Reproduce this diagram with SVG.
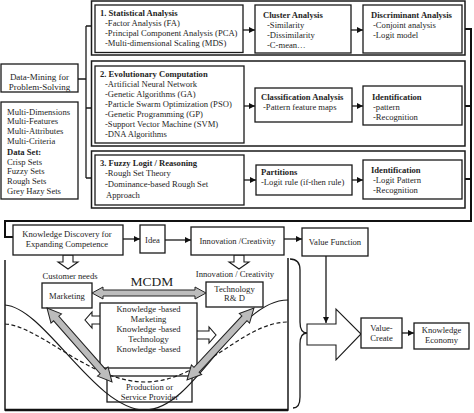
<svg xmlns="http://www.w3.org/2000/svg" width="474" height="413" viewBox="0 0 474 413">
<defs>
<style>
.t{font-family:"Liberation Serif","Times New Roman",serif;font-size:8.6px;fill:#1e1e1e}
.h{font-weight:bold}
.m{text-anchor:middle}
.bx{fill:#fff;stroke:#1a1a1a;stroke-width:1.3}
.fr{fill:none;stroke:#1a1a1a;stroke-width:1.5}
.ln{fill:none;stroke:#1a1a1a;stroke-width:1.3}
.bus{fill:none;stroke:#111;stroke-width:2}
.ga{fill:#bcbcbc;stroke:#222;stroke-width:1}
.ha{fill:#fff;stroke:#1a1a1a;stroke-width:1.1}
.cv{fill:none;stroke:#1a1a1a;stroke-width:1.2}
.dv{fill:none;stroke:#1a1a1a;stroke-width:1.2;stroke-dasharray:4 2.5}
</style>
<marker id="ah" viewBox="0 0 10 10" refX="10" refY="5" markerWidth="7" markerHeight="6" orient="auto" markerUnits="userSpaceOnUse"><path d="M0,0L10,5L0,10z" fill="#111"/></marker>
</defs>
<rect width="474" height="413" fill="#fff"/>

<g id="connectors">
  <!-- left bracket -->
  <path class="ln" d="M78,79H86M86,26V178M86,26H91.5M86,108H91.5M86,178H91.5"/>
  <!-- top section arrows -->
  <path class="ln" d="M243,30H255" marker-end="url(#ah)"/>
  <path class="ln" d="M351,30H363" marker-end="url(#ah)"/>
  <path class="ln" d="M244,106H255" marker-end="url(#ah)"/>
  <path class="ln" d="M352,106H363" marker-end="url(#ah)"/>
  <path class="ln" d="M244,180H256" marker-end="url(#ah)"/>
  <path class="ln" d="M352,180H363" marker-end="url(#ah)"/>
  <!-- right bus and loop -->
  <path class="bus" d="M465,29H471M465,106H471M465,179H471M471,28V221H5V237H13"/>
  <!-- bottom flow -->
  <path class="ln" d="M123,239H140" marker-end="url(#ah)"/>
  <path class="ln" d="M165,240H191" marker-end="url(#ah)"/>
  <path class="ln" d="M284,239H302" marker-end="url(#ah)"/>
  <path class="ln" d="M326,256V323" marker-end="url(#ah)"/>
  <path class="ln" d="M402,333H414" marker-end="url(#ah)"/>
  <!-- hollow down arrows -->
  <path class="ha" d="M63,255V262H58L68,269L78,262H73V255Z"/>
  <path class="ha" d="M234,255V262H229L239,269L249,262H244V255Z"/>
  <!-- MCDM frame (U) -->
  <path class="fr" d="M5,260V410H288V258"/>
  <path d="M5,410H288" stroke="#111" stroke-width="2.5"/>
  <!-- brace -->
  <path class="ln" d="M290,259Q300,259 300,270V322Q300,333 307,333Q300,333 300,344V397Q300,408 293,408"/>
  <!-- big hollow arrow -->
  <path class="ha" d="M307,324H336V309L361,334L336,360V345H307Z"/>
  <!-- hollow side arrows of knowledge box -->
  <path class="ha" d="M100,316H92V312L85,320L92,328V324H100"/>
  <path class="ha" d="M197,331H209V327L216,335L209,343V339H197"/>
</g>

<g id="statistical-frame">
  <rect class="fr" x="91.5" y="1" width="373.5" height="54"/>
  <rect class="bx" x="95" y="5" width="148" height="47.5"/>
  <text class="t h" x="100" y="16">1. Statistical Analysis</text>
  <text class="t" x="105" y="25.5">-Factor Analysis (FA)</text>
  <text class="t" x="105" y="35.5">-Principal Component Analysis (PCA)</text>
  <text class="t" x="105" y="45.5">-Multi-dimensional Scaling (MDS)</text>
</g>
<g id="cluster">
  <rect class="bx" x="255" y="5" width="96" height="48"/>
  <text class="t h" x="263" y="18">Cluster Analysis</text>
  <text class="t" x="267" y="28">-Similarity</text>
  <text class="t" x="267" y="38">-Dissimilarity</text>
  <text class="t" x="267" y="48">-C-mean…</text>
</g>
<g id="discriminant">
  <rect class="bx" x="363" y="5" width="99" height="48"/>
  <text class="t h" x="371" y="18">Discriminant Analysis</text>
  <text class="t" x="373" y="28">-Conjoint analysis</text>
  <text class="t" x="373" y="38">-Logit model</text>
</g>

<g id="evolutionary-frame">
  <rect class="fr" x="91.5" y="61" width="373.5" height="85"/>
  <rect class="bx" x="95" y="66" width="149" height="77"/>
  <text class="t h" x="100" y="76.5">2. Evolutionary Computation</text>
  <text class="t" x="105" y="86.5">-Artificial Neural Network</text>
  <text class="t" x="105" y="96.5">-Genetic Algorithms (GA)</text>
  <text class="t" x="105" y="106.5">-Particle Swarm Optimization (PSO)</text>
  <text class="t" x="105" y="116.5">-Genetic Programming (GP)</text>
  <text class="t" x="105" y="126.5">-Support Vector Machine (SVM)</text>
  <text class="t" x="105" y="136.5">-DNA Algorithms</text>
</g>
<g id="classification">
  <rect class="bx" x="255" y="88" width="97" height="34"/>
  <text class="t h" x="261" y="100">Classification Analysis</text>
  <text class="t" x="263" y="110">-Pattern feature maps</text>
</g>
<g id="identification-2">
  <rect class="bx" x="363" y="86" width="99" height="39"/>
  <text class="t h" x="372" y="100">Identification</text>
  <text class="t" x="373" y="109.5">-pattern</text>
  <text class="t" x="373" y="119.5">-Recognition</text>
</g>

<g id="fuzzy-frame">
  <rect class="fr" x="91.5" y="151" width="373.5" height="57"/>
  <rect class="bx" x="95" y="155" width="149" height="50"/>
  <text class="t h" x="100" y="166">3. Fuzzy Logit / Reasoning</text>
  <text class="t" x="105" y="176">-Rough Set Theory</text>
  <text class="t" x="105" y="187">-Dominance-based Rough Set</text>
  <text class="t" x="106" y="198">Approach</text>
</g>
<g id="partitions">
  <rect class="bx" x="256" y="165" width="96" height="30"/>
  <text class="t h" x="261" y="175">Partitions</text>
  <text class="t" x="261" y="185">-Logit rule (if-then rule)</text>
</g>
<g id="identification-3">
  <rect class="bx" x="363" y="160" width="99" height="39"/>
  <text class="t h" x="371" y="173">Identification</text>
  <text class="t" x="373" y="183">-Logit Pattern</text>
  <text class="t" x="373" y="193">-Recognition</text>
</g>

<g id="data-mining">
  <rect class="bx" x="1" y="64" width="77" height="28"/>
  <text class="t m" x="39.5" y="80" style="font-size:9px">Data-Mining for</text>
  <text class="t m" x="39.5" y="90" style="font-size:9px">Problem-Solving</text>
</g>
<g id="data-sets">
  <rect class="bx" x="1" y="102" width="77" height="97"/>
  <text class="t" x="7" y="114.5">Multi-Dimensions</text>
  <text class="t" x="7" y="124.3">Multi-Features</text>
  <text class="t" x="7" y="134.1">Multi-Attributes</text>
  <text class="t" x="7" y="143.9">Multi-Criteria</text>
  <text class="t h" x="7" y="154.7">Data Set:</text>
  <text class="t" x="7" y="164.5">Crisp Sets</text>
  <text class="t" x="7" y="174.3">Fuzzy Sets</text>
  <text class="t" x="7" y="184.1">Rough Sets</text>
  <text class="t" x="7" y="193.9">Grey Hazy Sets</text>
</g>

<g id="knowledge-discovery">
  <rect class="bx" x="13" y="225" width="110" height="30"/>
  <text class="t m" x="67" y="237">Knowledge Discovery for</text>
  <text class="t m" x="67" y="246.5">Expanding Competence</text>
</g>
<g id="idea">
  <rect class="bx" x="140" y="225" width="25" height="28"/>
  <text class="t m" x="152.5" y="243">Idea</text>
</g>
<g id="innovation">
  <rect class="bx" x="191" y="227" width="93" height="28"/>
  <text class="t m" x="237.5" y="244">Innovation /Creativity</text>
</g>
<g id="value-function">
  <rect class="bx" x="302" y="228" width="66" height="28"/>
  <text class="t m" x="335" y="245">Value Function</text>
</g>

<g id="labels">
  <text class="t m" x="70" y="279">Customer needs</text>
  <text class="t m" x="235" y="277">Innovation / Creativity</text>
  <text class="t m" x="152" y="285.5" style="font-size:13.5px">MCDM</text>
</g>

<g id="marketing">
  <rect class="bx" x="42" y="283" width="50" height="25"/>
  <text class="t m" x="67" y="298.5">Marketing</text>
</g>
<g id="technology">
  <rect class="bx" x="206" y="282" width="57" height="25"/>
  <text class="t m" x="234.5" y="292">Technology</text>
  <text class="t m" x="234.5" y="301">R&amp; D</text>
</g>
<g id="knowledge-based">
  <rect class="bx" x="100" y="303" width="97" height="65"/>
  <text class="t m" x="148.5" y="312">Knowledge -based</text>
  <text class="t m" x="148.5" y="322">Marketing</text>
  <text class="t m" x="148.5" y="332">Knowledge -based</text>
  <text class="t m" x="148.5" y="342">Technology</text>
  <text class="t m" x="148.5" y="352">Knowledge -based</text>
</g>
<g id="production">
  <rect class="bx" x="107" y="376" width="85" height="26"/>
  <text class="t m" x="149.5" y="390">Production or</text>
  <text class="t m" x="149.5" y="400">Service Provider</text>
</g>

<g id="curves">
  <path class="cv" d="M5,305C45,308 95,410 145,410C195,410 235,300 288,300"/>
  <path class="dv" d="M5,324C40,326 90,382 145,382C202,382 242,322 288,322"/>
</g>

<g id="gray-arrows">
  <polygon class="ga" points="92,293 103,287 103,290 195,290 195,287 206,293 195,299 195,296 103,296 103,299"/>
  <polygon class="ga" transform="translate(47,308) rotate(48.7)" points="0,0 14,-7 14,-3.5 84.5,-3.5 84.5,-7 98.5,0 84.5,7 84.5,3.5 14,3.5 14,7"/>
  <polygon class="ga" transform="translate(187,380) rotate(-47.06)" points="0,0 14,-7 14,-3.5 84.3,-3.5 84.3,-7 98.3,0 84.3,7 84.3,3.5 14,3.5 14,7"/>
</g>

<g id="value-create">
  <rect class="bx" x="361" y="318" width="41" height="30"/>
  <text class="t m" x="381.5" y="331">Value-</text>
  <text class="t m" x="381.5" y="341">Create</text>
</g>
<g id="knowledge-economy">
  <rect class="bx" x="414" y="323" width="55" height="26"/>
  <text class="t m" x="441.5" y="333">Knowledge</text>
  <text class="t m" x="441.5" y="343">Economy</text>
</g>
</svg>
